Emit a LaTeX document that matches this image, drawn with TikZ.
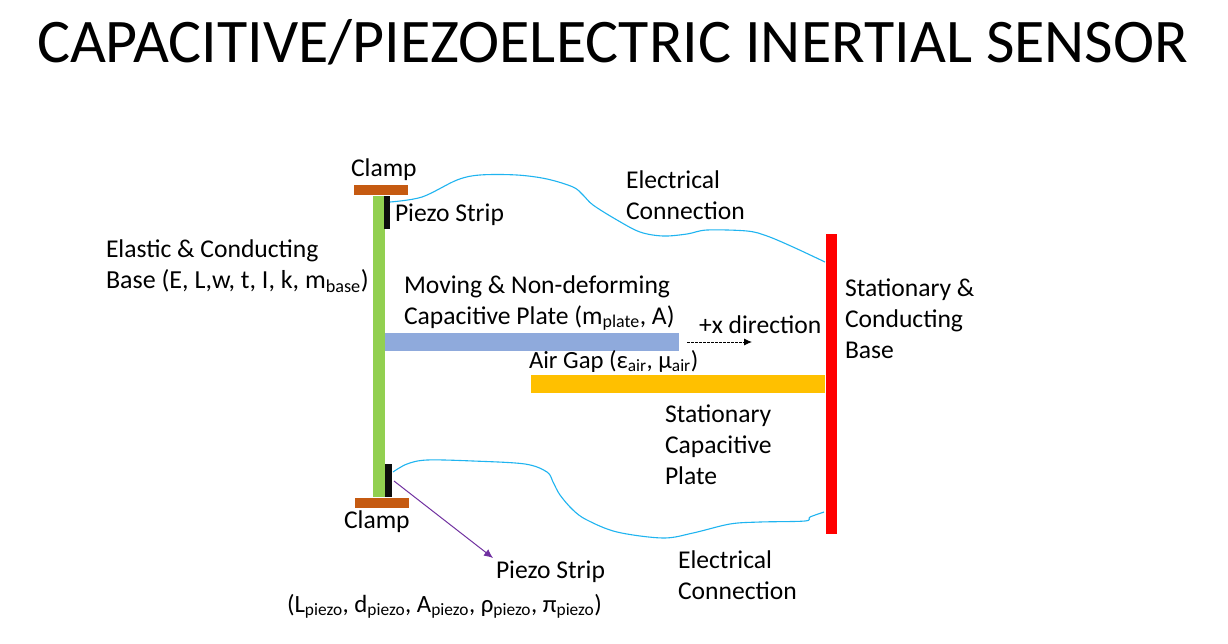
\documentclass[tikz,border=0pt]{standalone}
\usepackage{fontspec}
\setmainfont{Carlito}
\usetikzlibrary{arrows.meta}
\definecolor{clampc}{HTML}{C55A11}
\definecolor{greenc}{HTML}{92D050}
\definecolor{bluec}{HTML}{8FAADC}
\definecolor{yellowc}{HTML}{FFC000}
\definecolor{wirec}{HTML}{1FB4F0}
\definecolor{purplec}{HTML}{7030A0}
\tikzset{
  block/.style={draw=none,inner sep=0pt,outer sep=0pt,minimum width=#1,anchor=north west},
  lbl/.style={inner sep=0pt,outer sep=0pt,anchor=base west,font=\fontsize{25.6}{26}\selectfont},
  wire/.style={draw=wirec,line width=1.1pt,line join=round},
}
\newcommand{\sbs}[1]{\textsubscript{#1}}
\begin{document}
\begin{tikzpicture}[x=1pt,y=-1pt]
\useasboundingbox[fill=white] (0,0) rectangle (1228,643);
% title
\node[lbl,font=\fontsize{62}{62}\selectfont] (title) at (37,62) {CAPACITIVE/PIEZOELECTRIC INERTIAL SENSOR};
% blocks
\node[block=12pt,minimum height=301pt,fill=greenc] (elastic) at (373,196) {};
\node[block=54pt,minimum height=10pt,fill=clampc] (clampT) at (354,185) {};
\node[block=54pt,minimum height=10pt,fill=clampc] (clampB) at (355,498) {};
\node[block=6pt,minimum height=33pt,fill=black!95] (piezoT) at (384,196) {};
\node[block=7pt,minimum height=33pt,fill=black!95] (piezoB) at (385,464) {};
\node[block=294pt,minimum height=18pt,fill=bluec] (moving) at (385,333) {};
\node[block=294pt,minimum height=18pt,fill=yellowc] (stat) at (531,375) {};
\node[block=11pt,minimum height=300pt,fill=red] (base) at (826,234) {};
% labels
\node[lbl] (t1) at (351,176) {Clamp};
\node[lbl] (t2) at (395,221) {Piezo Strip};
\node[lbl] (t3) at (626,188) {Electrical};
\node[lbl] (t4) at (626,219) {Connection};
\node[lbl] (t5) at (106,257) {Elastic \& Conducting};
\node[lbl,font=\fontsize{26}{26}\selectfont] (t6) at (106,288) {Base (E, L,w, t, I, k, m\sbs{base})};
\node[lbl] (t7) at (404,293) {Moving \& Non-deforming};
\node[lbl] (t8) at (404,324) {Capacitive Plate (m\sbs{plate}, A)};
\node[lbl] (t9) at (699,333) {+x direction};
\node[lbl,font=\fontsize{24.7}{26}\selectfont] (t10) at (529,368) {Air Gap (ε\sbs{air}, μ\sbs{air})};
\node[lbl] (t11) at (845,296) {Stationary \&};
\node[lbl] (t12) at (845,327) {Conducting};
\node[lbl] (t13) at (845,358) {Base};
\node[lbl] (t14) at (665,422) {Stationary};
\node[lbl] (t15) at (665,453) {Capacitive};
\node[lbl] (t16) at (665,484) {Plate};
\node[lbl] (t17) at (344,528) {Clamp};
\node[lbl] (t18) at (678,568) {Electrical};
\node[lbl] (t19) at (678,599) {Connection};
\node[lbl] (t20) at (496,578) {Piezo Strip};
\node[lbl,font=\fontsize{24.8}{26}\selectfont] (t21) at (287,612) {(L\sbs{piezo}, d\sbs{piezo}, A\sbs{piezo}, ρ\sbs{piezo}, π\sbs{piezo})};
% wires
\coordinate (wTs) at (390,202);
\coordinate (wTe) at (825,262);
\coordinate (wBs) at (393,472);
\coordinate (wBe) at (824,512);
\draw[wire] plot[smooth,tension=.55] coordinates {(wTs) (422,197) (457,180) (480,175) (517,175) (547,179) (573,187) (583,195) (593,205) (617,220) (640,232) (663,236) (687,234) (707,230) (747,231) (767,236) (793,247) (wTe)};
\draw[wire] plot[smooth,tension=.55] coordinates {(wBs) (407,464) (427,460) (473,461) (525,464) (547,472) (553,482) (560,495) (573,510) (587,520) (617,532) (663,538) (693,533) (730,524) (760,522) (805,521) (810,517) (wBe)};
% arrows
\coordinate (pa) at (394,481);
\coordinate (pb) at (493,558);
\draw[draw=purplec,line width=1pt,-{Latex[length=9pt,width=8pt]}] (pa) -- (pb);
\coordinate (da) at (687,342);
\coordinate (db) at (752,342);
\draw[black,line width=.9pt,dash pattern=on 2.5pt off 1.5pt,-{Latex[length=8pt,width=7pt]}] (da) -- (db);
\end{tikzpicture}
\end{document}
